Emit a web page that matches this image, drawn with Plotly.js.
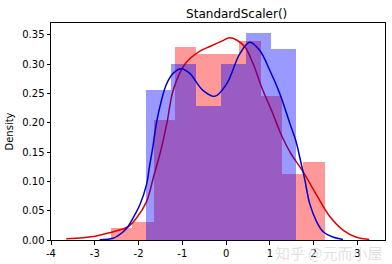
<!DOCTYPE html>
<html>
<head>
<meta charset="utf-8">
<script src="https://cdn.plot.ly/plotly-3.0.1.min.js"></script>
<style>html,body{margin:0;padding:0;background:#fff;}#chart{width:392px;height:264px;}</style>
</head>
<body>
<div id="chart"></div>
<script>
// Red histogram (normal-like data after StandardScaler)
const redBinCenters = [-2.390, -1.901, -1.412, -0.923, -0.434, 0.055, 0.544, 1.033, 1.522, 2.011];
const redBinWidth = 0.4891;
const redDensity = [0.0205, 0.0308, 0.205, 0.329, 0.318, 0.318, 0.339, 0.246, 0.113, 0.133];

// Blue histogram
const blueBinCenters = [-1.550, -0.978, -0.407, 0.165, 0.736, 1.308];
const blueBinWidth = 0.5713;
const blueDensity = [0.256, 0.300, 0.229, 0.300, 0.353, 0.326];

// KDE curves
const redKdeX = [-3.65, -3.27, -2.96, -2.66, -2.43, -2.24, -2.05, -1.82, -1.65, -1.50, -1.35, -1.21, -0.94, -0.60, -0.37, -0.10, 0.085, 0.24, 0.43, 0.62, 0.81, 1.07, 1.19, 1.30, 1.46, 1.76, 2.07, 2.37, 2.67, 2.98, 3.27];
const redKdeY = [0.002, 0.004, 0.007, 0.0125, 0.017, 0.0226, 0.037, 0.065, 0.110, 0.150, 0.200, 0.255, 0.300, 0.322, 0.330, 0.339, 0.345, 0.341, 0.329, 0.300, 0.261, 0.215, 0.192, 0.173, 0.150, 0.116, 0.0765, 0.040, 0.017, 0.0046, 0.001];

const blueKdeX = [-2.89, -2.58, -2.35, -2.24, -2.13, -1.97, -1.82, -1.75, -1.67, -1.59, -1.48, -1.36, -1.20, -1.02, -0.83, -0.53, -0.26, 0.01, 0.31, 0.54, 0.77, 1.00, 1.23, 1.46, 1.59, 1.68, 1.80, 1.91, 2.07, 2.22, 2.45, 2.67];
const blueKdeY = [0.0005, 0.003, 0.014, 0.023, 0.037, 0.060, 0.094, 0.125, 0.160, 0.200, 0.237, 0.266, 0.285, 0.292, 0.284, 0.255, 0.245, 0.266, 0.317, 0.337, 0.323, 0.289, 0.249, 0.198, 0.170, 0.142, 0.102, 0.062, 0.031, 0.014, 0.0046, 0.001];

const xTickVals = [-4, -3, -2, -1, 0, 1, 2, 3];
const yTickVals = [0.00, 0.05, 0.10, 0.15, 0.20, 0.25, 0.30, 0.35];
const yTickText = ['0.00', '0.05', '0.10', '0.15', '0.20', '0.25', '0.30', '0.35'];

const traces = [
  {type: 'bar', x: redBinCenters, y: redDensity, width: redBinWidth,
   marker: {color: 'rgba(255,0,0,0.4)', line: {width: 0}}, xaxis: 'x', yaxis: 'y', hoverinfo: 'skip'},
  {type: 'scatter', mode: 'lines', x: redKdeX, y: redKdeY, line: {color: '#e00000', width: 1.5, shape: 'spline', smoothing: 1},
   xaxis: 'x', yaxis: 'y', hoverinfo: 'skip'},
  {type: 'bar', x: blueBinCenters, y: blueDensity, width: blueBinWidth,
   marker: {color: 'rgba(0,0,255,0.4)', line: {width: 0}}, xaxis: 'x', yaxis: 'y2', hoverinfo: 'skip'},
  {type: 'scatter', mode: 'lines', x: blueKdeX, y: blueKdeY, line: {color: '#0000d0', width: 1.5, shape: 'spline', smoothing: 1},
   xaxis: 'x', yaxis: 'y2', hoverinfo: 'skip'}
];

const font = {family: 'DejaVu Sans, sans-serif', size: 10, color: '#000'};
const layout = {
  width: 392, height: 264,
  margin: {l: 51, r: 7, t: 23, b: 24, pad: 0},
  paper_bgcolor: '#fff', plot_bgcolor: '#fff',
  showlegend: false,
  barmode: 'overlay', bargap: 0,
  font: font,
  title: {text: 'StandardScaler()', font: {family: 'DejaVu Sans, sans-serif', size: 12, color: '#000'},
          x: 0.556, xanchor: 'center', y: 0.949, yanchor: 'middle', xref: 'paper'},
  xaxis: {range: [-4.0, 3.63], tickvals: xTickVals, ticktext: xTickVals.map(String),
          showgrid: false, zeroline: false, showline: true, linecolor: '#000', linewidth: 1, mirror: true,
          ticks: 'outside', ticklen: 3.5, tickwidth: 1, tickcolor: '#000', tickfont: font},
  yaxis: {range: [0, 0.37], tickvals: yTickVals, ticktext: yTickText,
          showgrid: false, zeroline: false, showline: true, linecolor: '#000', linewidth: 1, mirror: true,
          ticks: 'outside', ticklen: 3.5, tickwidth: 1, tickcolor: '#000', tickfont: font,
          title: {text: 'Density', font: font, standoff: 6}},
  yaxis2: {range: [0, 0.37], overlaying: 'y', visible: false, showgrid: false, zeroline: false},
  annotations: [
    {text: '知乎 @元而小屋', xref: 'paper', yref: 'paper', x: 1.0, y: -0.058, xanchor: 'right', yanchor: 'middle',
     showarrow: false, font: {family: 'Noto Sans CJK SC, sans-serif', size: 15, color: 'rgba(215,215,215,0.75)'}}
  ]
};

Plotly.newPlot('chart', traces, layout, {staticPlot: true, displayModeBar: false});
</script>
</body>
</html>
